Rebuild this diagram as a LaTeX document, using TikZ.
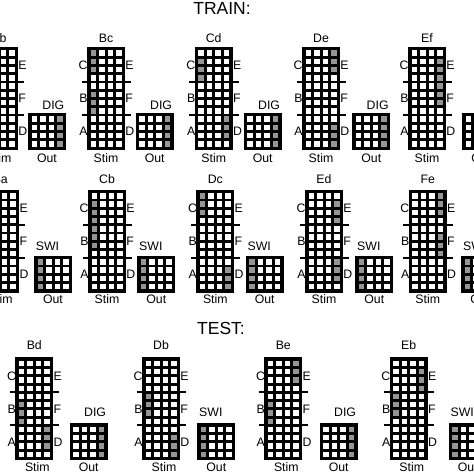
\documentclass[tikz,border=0pt]{standalone}
\usepackage{fontspec}
\setmainfont{Liberation Sans}
\definecolor{cellgrey}{HTML}{959595}
\tikzset{
  lbl/.style={inner sep=0pt, font=\fontsize{12.3}{14}\selectfont, text height=8.8pt, text depth=0pt},
  ttl/.style={inner sep=0pt, font=\fontsize{17.5}{20}\selectfont, text height=12.5pt, text depth=0pt},
  divline/.style={line width=2.3pt},
}
% #1 x, #2 y, #3 cols, #4 rows, #5 shaded list col/row
\newcommand{\cellgrid}[5]{%
  \fill[black] ({#1-1.9},{#2-1.9}) rectangle ({#1+8.5*#3+1.9},{#2+8.25*#4+1.9});
  \foreach \cc in {1,...,#3}{\foreach \rr in {1,...,#4}{%
    \fill[white] ({#1+8.5*(\cc-1)+1.5},{#2+8.25*(\rr-1)+1.45}) rectangle +(5.5,5.35);}}
  \foreach \cc/\rr in {#5}{%
    \fill[cellgrey] ({#1+8.5*\cc+1.5},{#2+8.25*\rr+1.45}) rectangle +(5.5,5.35);}
}
% #1 id, #2 x, #3 top, #4 name, #5 shaded, #6 name y, #7 below-label y, #8 stim label dx
\newcommand{\stimpanel}[8]{%
  \cellgrid{#2}{#3}{4}{12}{#5}
  \draw[divline] ({#2-7.5},{#3+33}) -- ({#2+42},{#3+33});
  \draw[divline] ({#2-7.5},{#3+66}) -- ({#2+42},{#3+66});
  \node[lbl] (#1-name) at ({#2+17},{#6}) {#4};
  \node[lbl] (#1-stim) at ({#2+17+#8},{#7}) {Stim};
  \node[lbl, anchor=east] (#1-C) at ({#2-1.2},{#3+16.5}) {C};
  \node[lbl, anchor=east] (#1-B) at ({#2-1.2},{#3+49.5}) {B};
  \node[lbl, anchor=east] (#1-A) at ({#2-1.2},{#3+82.5}) {A};
  \node[lbl, anchor=west] (#1-E) at ({#2+36.2},{#3+16.5}) {E};
  \node[lbl, anchor=west] (#1-F) at ({#2+36.2},{#3+49.5}) {F};
  \node[lbl, anchor=west] (#1-D) at ({#2+36.2},{#3+82.5}) {D};
}
% #1 id, #2 x, #3 top of out grid, #4 label y, #5 below-label y
\newcommand{\outdig}[5]{%
  \cellgrid{#2}{#3}{4}{4}{3/0,3/1,3/2,3/3}
  \node[lbl, anchor=east] (#1-type) at ({#2+34.5},{#4}) {DIG};
  \node[lbl] (#1-out) at ({#2+17},{#5}) {Out};
}
\newcommand{\outswi}[5]{%
  \cellgrid{#2}{#3}{4}{4}{0/0,0/1,0/2,0/3}
  \node[lbl, anchor=west] (#1-type) at ({#2-0.3},{#4}) {SWI};
  \node[lbl] (#1-out) at ({#2+17},{#5}) {Out};
}
\begin{document}
\begin{tikzpicture}[x=1pt, y=-1pt]
\useasboundingbox (0,0) rectangle (474,474);
\fill[white] (0,0) rectangle (474,474);
\clip (0,0) rectangle (474,474);
\node[ttl] (train) at (222,8.5) {TRAIN:};
\node[ttl] (test) at (221,328.3) {TEST:};
% row 1
\stimpanel{ab}{-18}{49}{Ab}{0/9,0/10,0/11,0/4,0/5,0/6}{38}{158.3}{0}
\outdig{ab}{30}{115}{105}{158.3}
\stimpanel{bc}{89}{49}{Bc}{0/5,0/6,0/7,0/0,0/1,0/2}{38}{158.3}{0}
\outdig{bc}{137.7}{115}{105}{158.3}
\stimpanel{cd}{196.7}{49}{Cd}{0/1,0/2,0/3,3/8,3/9,3/10}{38}{158.3}{0}
\outdig{cd}{245.7}{115}{105}{158.3}
\stimpanel{de}{304}{49}{De}{3/9,3/10,3/11,3/0,3/1,3/2}{38}{158.3}{0}
\outdig{de}{354.3}{115}{105}{158.3}
\stimpanel{ef}{410}{49}{Ef}{3/1,3/2,3/3,3/4,3/5,3/6}{38}{158.3}{0}
\outdig{ef}{464.3}{115}{105}{158.3}
% row 2
\stimpanel{ba}{-16.7}{191.7}{Ba}{0/5,0/6,0/7,0/8,0/9,0/10}{178.7}{299}{0}
\outswi{ba}{36}{257.7}{246}{299}
\stimpanel{cb}{90}{191.7}{Cb}{0/1,0/2,0/3,0/4,0/5,0/6}{178.7}{299}{0}
\outswi{cb}{139.3}{257.7}{246}{299}
\stimpanel{dc}{198.3}{191.7}{Dc}{3/9,3/10,3/11,0/0,0/1,0/2}{178.7}{299}{0}
\outswi{dc}{247.7}{257.7}{246}{299}
\stimpanel{ed}{307}{191.7}{Ed}{3/1,3/2,3/3,3/8,3/9,3/10}{178.7}{299}{0}
\outswi{ed}{357.3}{257.7}{246}{299}
\stimpanel{fe}{410.7}{191.7}{Fe}{3/5,3/6,3/7,3/0,3/1,3/2}{178.7}{299}{0}
\outswi{fe}{463.3}{257.7}{246}{299}
% row 3 (test)
\stimpanel{bd}{17.3}{359.3}{Bd}{0/5,0/6,0/7,3/8,3/9,3/10}{344.7}{467}{3}
\outdig{bd}{71.7}{425.3}{412}{467}
\stimpanel{db}{144}{359.3}{Db}{3/9,3/10,3/11,0/4,0/5,0/6}{344.7}{467}{3}
\outswi{db}{199.3}{425.3}{412}{467}
\stimpanel{be}{266.3}{359.3}{Be}{0/5,0/6,0/7,3/0,3/1,3/2}{344.7}{467}{3}
\outdig{be}{321.7}{425.3}{412}{467}
\stimpanel{eb}{391.7}{359.3}{Eb}{3/1,3/2,3/3,0/4,0/5,0/6}{344.7}{467}{3}
\outswi{eb}{450.7}{425.3}{412}{467}
\end{tikzpicture}
\end{document}
